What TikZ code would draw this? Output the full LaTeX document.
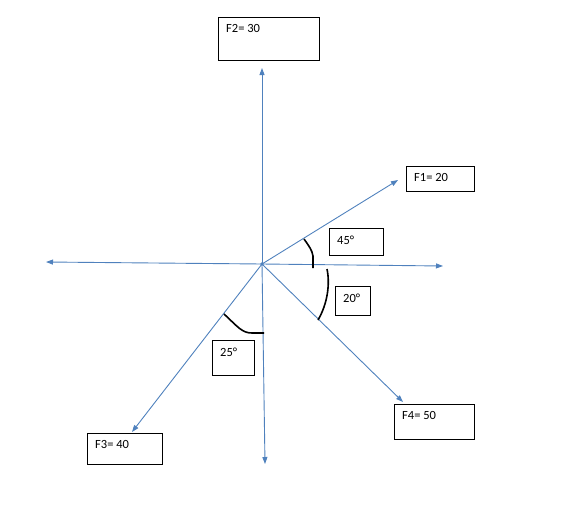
\documentclass[tikz,border=0pt]{standalone}
\usepackage{fontspec}
\setmainfont{Carlito}
\usetikzlibrary{arrows.meta}
\definecolor{vblue}{RGB}{79,129,189}
\begin{document}
\begin{tikzpicture}[x=1pt,y=-1pt,
  vec/.style={draw=vblue, line width=0.9pt, -{Triangle[length=7pt,width=5pt]}},
  box/.style={draw=black, line width=0.9pt, anchor=north west, inner sep=0pt},
  lbl/.style={anchor=north west, inner sep=0pt, font=\fontsize{12.5}{14}\selectfont, xshift=8pt, yshift=-7.5pt},
  arcline/.style={draw=black, line width=1.6pt}]
\useasboundingbox (0,0) rectangle (572,522);
\coordinate (O) at (262,264);
\coordinate (up) at (262,68);
\coordinate (down) at (265,464);
\coordinate (left) at (46,262);
\coordinate (right) at (443,266);
\coordinate (f1) at (398,180);
\coordinate (f3) at (132,432);
\coordinate (f4) at (403,402);
\draw[vec] (O) -- (up);
\draw[vec] (O) -- (down);
\draw[vec] (O) -- (left);
\draw[vec] (O) -- (right);
\draw[vec] (O) -- (f1);
\draw[vec] (O) -- (f3);
\draw[vec] (O) -- (f4);
\fill[vblue] (O) circle (1.8pt);
% boxes
\node[box, minimum width=101pt, minimum height=43pt, label={[lbl]north west:F2= 30}] (bF2) at (218,17) {};
\node[box, minimum width=68pt, minimum height=25pt, label={[lbl]north west:F1= 20}] (bF1) at (406,166) {};
\node[box, minimum width=54pt, minimum height=27pt, label={[lbl]north west:45°}] (b45) at (329,228) {};
\node[box, minimum width=35pt, minimum height=29pt, label={[lbl]north west:20°}] (b20) at (335,286) {};
\node[box, minimum width=42pt, minimum height=35pt, label={[lbl]north west:25°}] (b25) at (212,340) {};
\node[box, minimum width=75pt, minimum height=31pt, label={[lbl]north west:F3= 40}] (bF3) at (87,433) {};
\node[box, minimum width=80pt, minimum height=35pt, label={[lbl]north west:F4= 50}] (bF4) at (394,404) {};
% arcs
\coordinate (a45s) at (304,239);
\coordinate (a45e) at (313,268);
\draw[arcline] (a45s) .. controls (309,246) and (312,250) .. (313,256) -- (a45e);
\coordinate (a20s) at (327,269);
\coordinate (a20e) at (318,320);
\draw[arcline] (a20s) .. controls (330,283) and (328,303) .. (a20e);
\coordinate (a25s) at (224,314);
\coordinate (a25e) at (264,333);
\draw[arcline] (a25s) .. controls (238,327) and (242,333) .. (252,333) -- (a25e);
\end{tikzpicture}
\end{document}
